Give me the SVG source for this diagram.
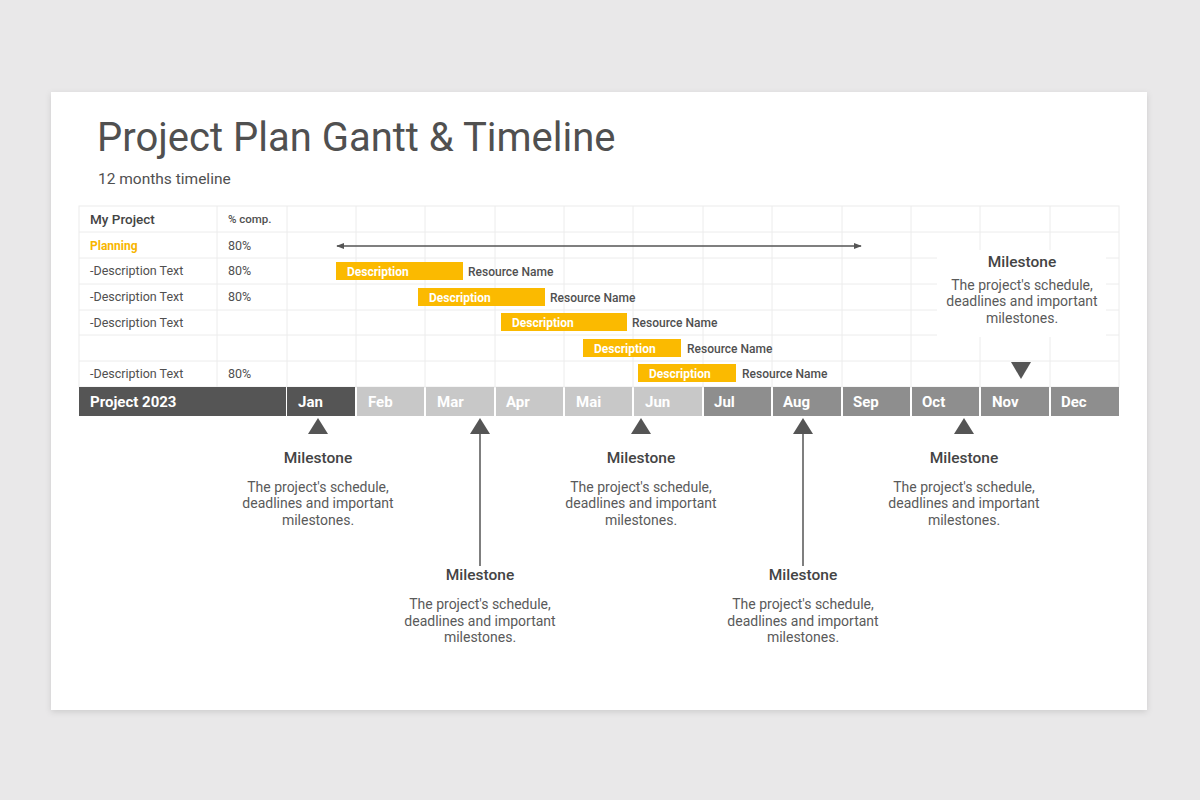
<svg xmlns="http://www.w3.org/2000/svg" width="1200" height="800" viewBox="0 0 1200 800">
<defs>
<filter id="sh" x="-5%" y="-5%" width="110%" height="115%"><feDropShadow dx="0" dy="2" stdDeviation="3" flood-color="#000" flood-opacity="0.12"/></filter>
<marker id="ah" viewBox="0 0 10 10" refX="9" refY="5" markerWidth="8" markerHeight="8" markerUnits="userSpaceOnUse" orient="auto-start-reverse"><path d="M0,1 L10,5 L0,9 z" fill="#555"/></marker>
<style>
text{font-family:Roboto,"Liberation Sans",sans-serif;fill:#505050}
.grid{stroke:#ececec;stroke-width:1;fill:none}
.cell{font-size:12.5px}
.bar{fill:#fbba00}
.bt{font-size:12px;font-weight:bold;fill:#fff}
.rn{font-size:12px;font-weight:500;fill:#505050}
.mo{font-size:15px;font-weight:bold;fill:#fff}
.mt{font-size:15.5px;font-weight:500;fill:#444;text-anchor:middle}
.md{font-size:14px;fill:#5a5a5a;text-anchor:middle}
.tri{fill:#555}
</style>
</defs>
<rect width="1200" height="800" fill="#e9e8e9"/>
<rect x="51" y="92" width="1096" height="618" fill="#fff" filter="url(#sh)"/>
<g id="title">
<text x="97" y="151" font-size="40" style="fill:#505050">Project Plan Gantt &amp; Timeline</text>
<text x="98" y="184" font-size="15.5">12 months timeline</text>
</g>
<g id="grid">
<rect x="79" y="206" width="1040" height="181" fill="#fff" class="grid"/>
<path class="grid" d="M79,232H1119M79,258H1119M79,284H1119M79,310H1119M79,335H1119M79,361H1119M217,206V387M287,206V387M356,206V387M425,206V387M495,206V387M564,206V387M633,206V387M703,206V387M772,206V387M842,206V387M911,206V387M980,206V387M1050,206V387"/>
</g>
<g id="table-text">
<text x="90" y="224" font-size="13.5" font-weight="500" style="fill:#444">My Project</text>
<text x="228" y="223" font-size="11.5" font-weight="500">% comp.</text>
<text x="90" y="250" font-size="12" font-weight="bold" style="fill:#f7b500">Planning</text>
<text x="228" y="250" class="cell">80%</text>
<text x="90" y="275" class="cell">-Description Text</text>
<text x="228" y="275" class="cell">80%</text>
<text x="90" y="301" class="cell">-Description Text</text>
<text x="228" y="301" class="cell">80%</text>
<text x="90" y="327" class="cell">-Description Text</text>
<text x="90" y="378" class="cell">-Description Text</text>
<text x="228" y="378" class="cell">80%</text>
</g>
<g id="connectors">
<line x1="337" y1="246" x2="861" y2="246" stroke="#555" stroke-width="1.6" marker-start="url(#ah)" marker-end="url(#ah)"/>
<line x1="480" y1="432" x2="480" y2="566" stroke="#555" stroke-width="1.5"/>
<line x1="803" y1="432" x2="803" y2="566" stroke="#555" stroke-width="1.5"/>
</g>
<g id="bars">
<g id="task1"><rect class="bar" x="336" y="262" width="127" height="18"/><text class="bt" x="347" y="275.5">Description</text><text class="rn" x="468" y="275.5">Resource Name</text></g>
<g id="task2"><rect class="bar" x="418" y="288" width="127" height="18"/><text class="bt" x="429" y="301.5">Description</text><text class="rn" x="550" y="301.5">Resource Name</text></g>
<g id="task3"><rect class="bar" x="501" y="313" width="126" height="18"/><text class="bt" x="512" y="327">Description</text><text class="rn" x="632" y="327">Resource Name</text></g>
<g id="task4"><rect class="bar" x="583" y="339" width="98" height="18"/><text class="bt" x="594" y="352.5">Description</text><text class="rn" x="687" y="352.5">Resource Name</text></g>
<g id="task5"><rect class="bar" x="638" y="364" width="98" height="18"/><text class="bt" x="649" y="377.5">Description</text><text class="rn" x="742" y="377.5">Resource Name</text></g>
</g>
<g id="months">
<rect x="79" y="387" width="207" height="29" fill="#555"/>
<text class="mo" x="90" y="407">Project 2023</text>
<rect x="287" y="387" width="68" height="29" fill="#555"/>
<rect x="357" y="387" width="67" height="29" fill="#c8c8c8"/>
<rect x="426" y="387" width="68" height="29" fill="#c8c8c8"/>
<rect x="496" y="387" width="67" height="29" fill="#c8c8c8"/>
<rect x="565" y="387" width="67" height="29" fill="#c8c8c8"/>
<rect x="634" y="387" width="68" height="29" fill="#c8c8c8"/>
<rect x="704" y="387" width="67" height="29" fill="#8e8e8e"/>
<rect x="773" y="387" width="68" height="29" fill="#8e8e8e"/>
<rect x="843" y="387" width="67" height="29" fill="#8e8e8e"/>
<rect x="912" y="387" width="67" height="29" fill="#8e8e8e"/>
<rect x="981" y="387" width="68" height="29" fill="#8e8e8e"/>
<rect x="1051" y="387" width="68" height="29" fill="#8e8e8e"/>
<text class="mo" x="298" y="407">Jan</text>
<text class="mo" x="368" y="407">Feb</text>
<text class="mo" x="437" y="407">Mar</text>
<text class="mo" x="506" y="407">Apr</text>
<text class="mo" x="576" y="407">Mai</text>
<text class="mo" x="645" y="407">Jun</text>
<text class="mo" x="714" y="407">Jul</text>
<text class="mo" x="783" y="407">Aug</text>
<text class="mo" x="853" y="407">Sep</text>
<text class="mo" x="922" y="407">Oct</text>
<text class="mo" x="992" y="407">Nov</text>
<text class="mo" x="1061" y="407">Dec</text>
</g>
<g id="milestone-top">
<rect x="937" y="250" width="169" height="87" fill="#fff"/>
<text class="mt" x="1022" y="267">Milestone</text>
<text class="md" x="1022" y="290">The project's schedule,</text>
<text class="md" x="1022" y="306">deadlines and important</text>
<text class="md" x="1022" y="323">milestones.</text>
<path class="tri" d="M1011,362H1031L1021,379z"/>
</g>
<g id="milestone-jan">
<path class="tri" d="M318,418L328,434H308z"/>
<text class="mt" x="318" y="463">Milestone</text>
<text class="md" x="318" y="492">The project's schedule,</text>
<text class="md" x="318" y="508">deadlines and important</text>
<text class="md" x="318" y="525">milestones.</text>
</g>
<g id="milestone-mar">
<path class="tri" d="M480,418L490,434H470z"/>
<text class="mt" x="480" y="580">Milestone</text>
<text class="md" x="480" y="609">The project's schedule,</text>
<text class="md" x="480" y="626">deadlines and important</text>
<text class="md" x="480" y="642">milestones.</text>
</g>
<g id="milestone-jun">
<path class="tri" d="M641,418L651,434H631z"/>
<text class="mt" x="641" y="463">Milestone</text>
<text class="md" x="641" y="492">The project's schedule,</text>
<text class="md" x="641" y="508">deadlines and important</text>
<text class="md" x="641" y="525">milestones.</text>
</g>
<g id="milestone-aug">
<path class="tri" d="M803,418L813,434H793z"/>
<text class="mt" x="803" y="580">Milestone</text>
<text class="md" x="803" y="609">The project's schedule,</text>
<text class="md" x="803" y="626">deadlines and important</text>
<text class="md" x="803" y="642">milestones.</text>
</g>
<g id="milestone-oct">
<path class="tri" d="M964,418L974,434H954z"/>
<text class="mt" x="964" y="463">Milestone</text>
<text class="md" x="964" y="492">The project's schedule,</text>
<text class="md" x="964" y="508">deadlines and important</text>
<text class="md" x="964" y="525">milestones.</text>
</g>
</svg>
